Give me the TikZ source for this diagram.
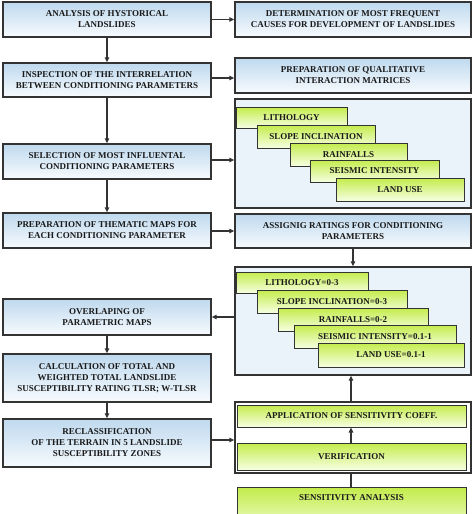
\documentclass[tikz,border=0pt]{standalone}
\usepackage{fontspec}
\setmainfont{Liberation Serif}
\usetikzlibrary{arrows.meta}
\definecolor{linec}{HTML}{333333}
\definecolor{txtc}{HTML}{1A1A1A}
\definecolor{blueT}{HTML}{BFD9EE}
\definecolor{blueB}{HTML}{F7FBFE}
\definecolor{greenT}{HTML}{C4EC4C}
\definecolor{greenB}{HTML}{F6FFE2}
\definecolor{frameF}{HTML}{EAF3FA}
\tikzset{
  base/.style={draw=linec, line width=1.3pt, align=center, inner sep=0pt,
    text=txtc, font=\fontsize{9}{11}\selectfont\bfseries},
  bluebox/.style={base, top color=blueT, bottom color=blueB},
  greenbox/.style={base, line width=1pt, top color=greenT, bottom color=greenB},
  framebox/.style={draw=linec, line width=1.4pt, fill=frameF, inner sep=0pt},
  arr/.style={draw=linec, line width=1.2pt, -{Triangle[length=5pt,width=4.5pt]}},
  plain/.style={draw=linec, line width=1.2pt}
}
\begin{document}
\begin{tikzpicture}[x=1pt,y=-1pt]
\useasboundingbox (0,0) rectangle (474,514);
\clip (0,0) rectangle (474,514);
\fill[white] (0,0) rectangle (474,514);
% left column
\node[bluebox, minimum width=208pt, minimum height=35pt] (b1) at (107,19.5) {ANALYSIS OF HYSTORICAL\\LANDSLIDES};
\node[bluebox, minimum width=208pt, minimum height=34pt] (b2) at (107,80) {INSPECTION OF THE INTERRELATION\\BETWEEN CONDITIONING PARAMETERS};
\node[bluebox, minimum width=208pt, minimum height=35pt] (b3) at (107,161.5) {SELECTION OF MOST INFLUENTAL\\CONDITIONING PARAMETERS};
\node[bluebox, minimum width=208pt, minimum height=35pt] (b4) at (107,230.5) {PREPARATION OF THEMATIC MAPS FOR\\EACH CONDITIONING PARAMETER};
\node[bluebox, minimum width=208pt, minimum height=36pt] (b5) at (107,317) {OVERLAPING OF\\PARAMETRIC MAPS};
\node[bluebox, minimum width=208pt, minimum height=48pt] (b6) at (107,378) {CALCULATION OF TOTAL AND\\WEIGHTED TOTAL LANDSLIDE\\SUSCEPTIBILITY RATING TLSR; W-TLSR};
\node[bluebox, minimum width=208pt, minimum height=48pt] (b7) at (107,443) {RECLASSIFICATION\\OF THE TERRAIN IN 5 LANDSLIDE\\SUSCEPTIBILITY ZONES};
% right column
\node[bluebox, minimum width=236pt, minimum height=35pt] (r1) at (353,19.5) {DETERMINATION OF MOST FREQUENT\\CAUSES FOR DEVELOPMENT OF LANDSLIDES};
\node[bluebox, minimum width=236pt, minimum height=35pt] (r2) at (353,75.5) {PREPARATION OF QUALITATIVE\\INTERACTION MATRICES};
\node[framebox, minimum width=236pt, minimum height=109pt] (f1) at (353,153.5) {};
\node[greenbox, minimum width=111pt, minimum height=21pt] (g11) at (291.5,117.5) {LITHOLOGY};
\node[greenbox, minimum width=118pt, minimum height=23pt] (g12) at (316,136.5) {SLOPE INCLINATION};
\node[greenbox, minimum width=117pt, minimum height=23pt] (g13) at (348.5,154.5) {RAINFALLS};
\node[greenbox, minimum width=129pt, minimum height=22pt] (g14) at (374.5,171) {SEISMIC INTENSITY};
\node[greenbox, minimum width=128pt, minimum height=23pt] (g15) at (400,189.5) {LAND USE};
\node[bluebox, minimum width=236pt, minimum height=34pt] (ra) at (353,231) {ASSIGNIG RATINGS FOR CONDITIONING\\PARAMETERS};
\node[framebox, minimum width=236pt, minimum height=108pt] (f2) at (353,321) {};
\node[greenbox, minimum width=132pt, minimum height=21pt] (g21) at (302,282.5) {LITHOLOGY=0-3};
\node[greenbox, minimum width=150pt, minimum height=23pt] (g22) at (332,301.5) {SLOPE INCLINATION=0-3};
\node[greenbox, minimum width=150pt, minimum height=23pt] (g23) at (353,319.5) {RAINFALLS=0-2};
\node[greenbox, minimum width=162pt, minimum height=23pt] (g24) at (375,336.5) {SEISMIC INTENSITY=0.1-1};
\node[greenbox, minimum width=146pt, minimum height=24pt] (g25) at (391,355) {LAND USE=0.1-1};
\node[framebox, fill=white, minimum width=236pt, minimum height=71pt] (f3) at (353,437.5) {};
\node[greenbox, minimum width=229pt, minimum height=22pt] (app) at (351.5,416) {APPLICATION OF SENSITIVITY COEFF.};
\node[greenbox, minimum width=229pt, minimum height=27pt] (ver) at (351.5,456.5) {VERIFICATION};
\node[greenbox, minimum width=229pt, anchor=north, inner ysep=5pt, text height=8pt, text depth=32pt] (sens) at (351.5,487) {SENSITIVITY ANALYSIS};
% connectors
\draw[arr] (b1) -- (b2);
\draw[arr] (b2) -- (b3);
\draw[arr] (b3) -- (b4);
\draw[arr] (b5) -- (b6);
\draw[arr] (b6) -- (b7);
\draw[arr] (b1.east) -- (r1.west);
\draw[arr] (b2.east |- 0,78) -- (r2.west |- 0,78);
\draw[arr] (b3.east |- 0,160) -- (f1.west |- 0,160);
\draw[arr] (b4.east |- 0,231) -- (ra.west |- 0,231);
\draw[arr] (f2.west |- b5.east) -- (b5.east);
\draw[arr] (b7.east |- 0,440) -- (f3.west |- 0,440);
\draw[arr] (ra.south) -- (f2.north -| ra.south);
\draw[arr] (f3.north -| 351,0) -- (f2.south -| 351,0);
\draw[arr] (ver.north -| 351,0) -- (app.south -| 351,0);
\draw[plain] (sens.north -| 351,0) -- (f3.south -| 351,0);
\end{tikzpicture}
\end{document}
